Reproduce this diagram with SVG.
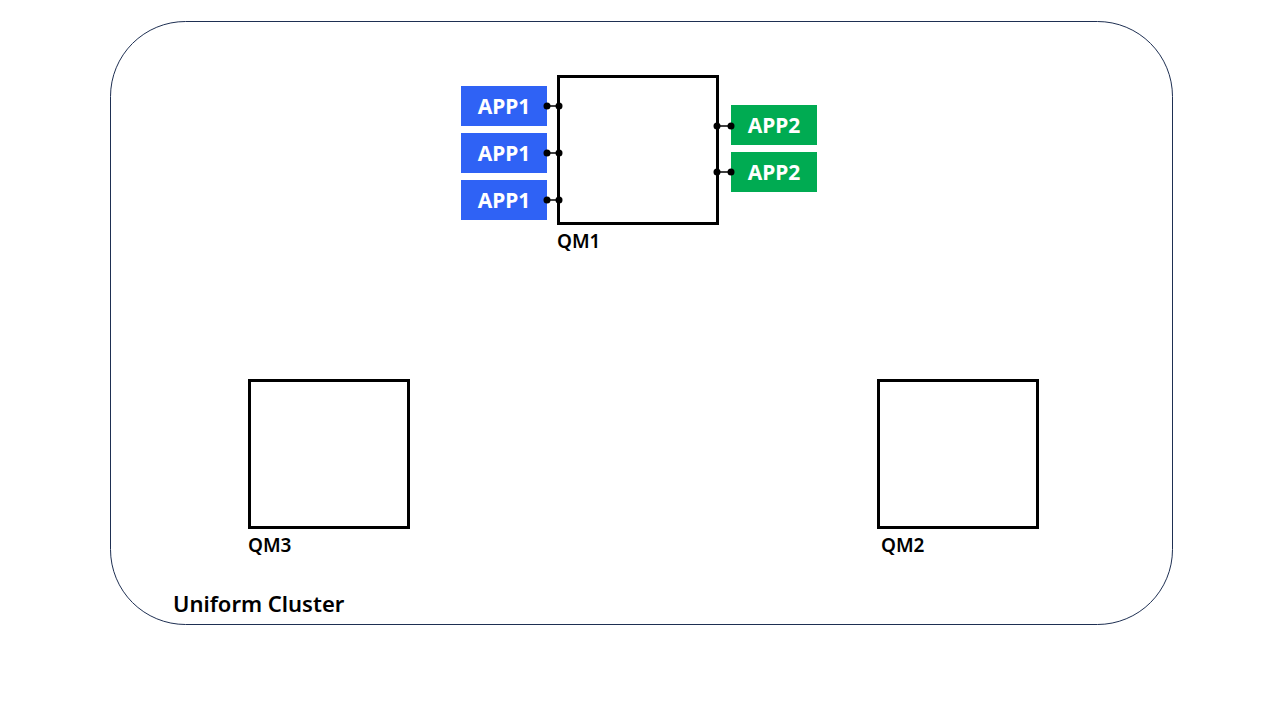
<svg xmlns="http://www.w3.org/2000/svg" width="1280" height="720" viewBox="0 0 1280 720">
<style>
.qm{fill:#fff;stroke:#000;stroke-width:3}
.lbl{font-family:"Noto Sans","Liberation Sans",sans-serif;font-size:19px;fill:#000;font-weight:600}
.app{font-family:"Noto Sans","Liberation Sans",sans-serif;font-size:21px;font-weight:bold;fill:#fff}
.a1{fill:#2f62f5}.a2{fill:#00ab52}
.c line{stroke:#000;stroke-width:1.5}.c circle{fill:#000}
</style>
<g id="cluster"><rect x="110.5" y="21.5" width="1062" height="603" rx="75" fill="#fff" stroke="#1e2f52" stroke-width="1"/>
<text class="lbl" x="173" y="612" style="font-size:22px">Uniform Cluster</text></g>
<g id="qm1"><rect class="qm" x="558.5" y="76.5" width="159" height="147"/><text class="lbl" x="557" y="248">QM1</text></g>
<g id="qm3"><rect class="qm" x="249.5" y="380.5" width="159" height="147"/><text class="lbl" x="248" y="552">QM3</text></g>
<g id="qm2"><rect class="qm" x="878.5" y="380.5" width="159" height="147"/><text class="lbl" x="881" y="552">QM2</text></g>
<g id="app1a"><rect class="a1" x="461" y="86" width="86" height="40"/><text class="app" x="504" y="114" text-anchor="middle">APP1</text></g>
<g id="app1b"><rect class="a1" x="461" y="133" width="86" height="40"/><text class="app" x="504" y="161" text-anchor="middle">APP1</text></g>
<g id="app1c"><rect class="a1" x="461" y="180" width="86" height="40"/><text class="app" x="504" y="208" text-anchor="middle">APP1</text></g>
<g id="app2a"><rect class="a2" x="731" y="105" width="86" height="40"/><text class="app" x="774" y="133" text-anchor="middle">APP2</text></g>
<g id="app2b"><rect class="a2" x="731" y="152" width="86" height="40"/><text class="app" x="774" y="180" text-anchor="middle">APP2</text></g>
<g class="c" id="connectors">
<line x1="547" y1="106" x2="559" y2="106"/><circle cx="547" cy="106" r="3.5"/><circle cx="559" cy="106" r="3.5"/>
<line x1="547" y1="153" x2="559" y2="153"/><circle cx="547" cy="153" r="3.5"/><circle cx="559" cy="153" r="3.5"/>
<line x1="547" y1="200" x2="559" y2="200"/><circle cx="547" cy="200" r="3.5"/><circle cx="559" cy="200" r="3.5"/>
<line x1="717" y1="126" x2="731" y2="126"/><circle cx="717" cy="126" r="3.5"/><circle cx="731" cy="126" r="3.5"/>
<line x1="717" y1="172" x2="731" y2="172"/><circle cx="717" cy="172" r="3.5"/><circle cx="731" cy="172" r="3.5"/>
</g>
</svg>
